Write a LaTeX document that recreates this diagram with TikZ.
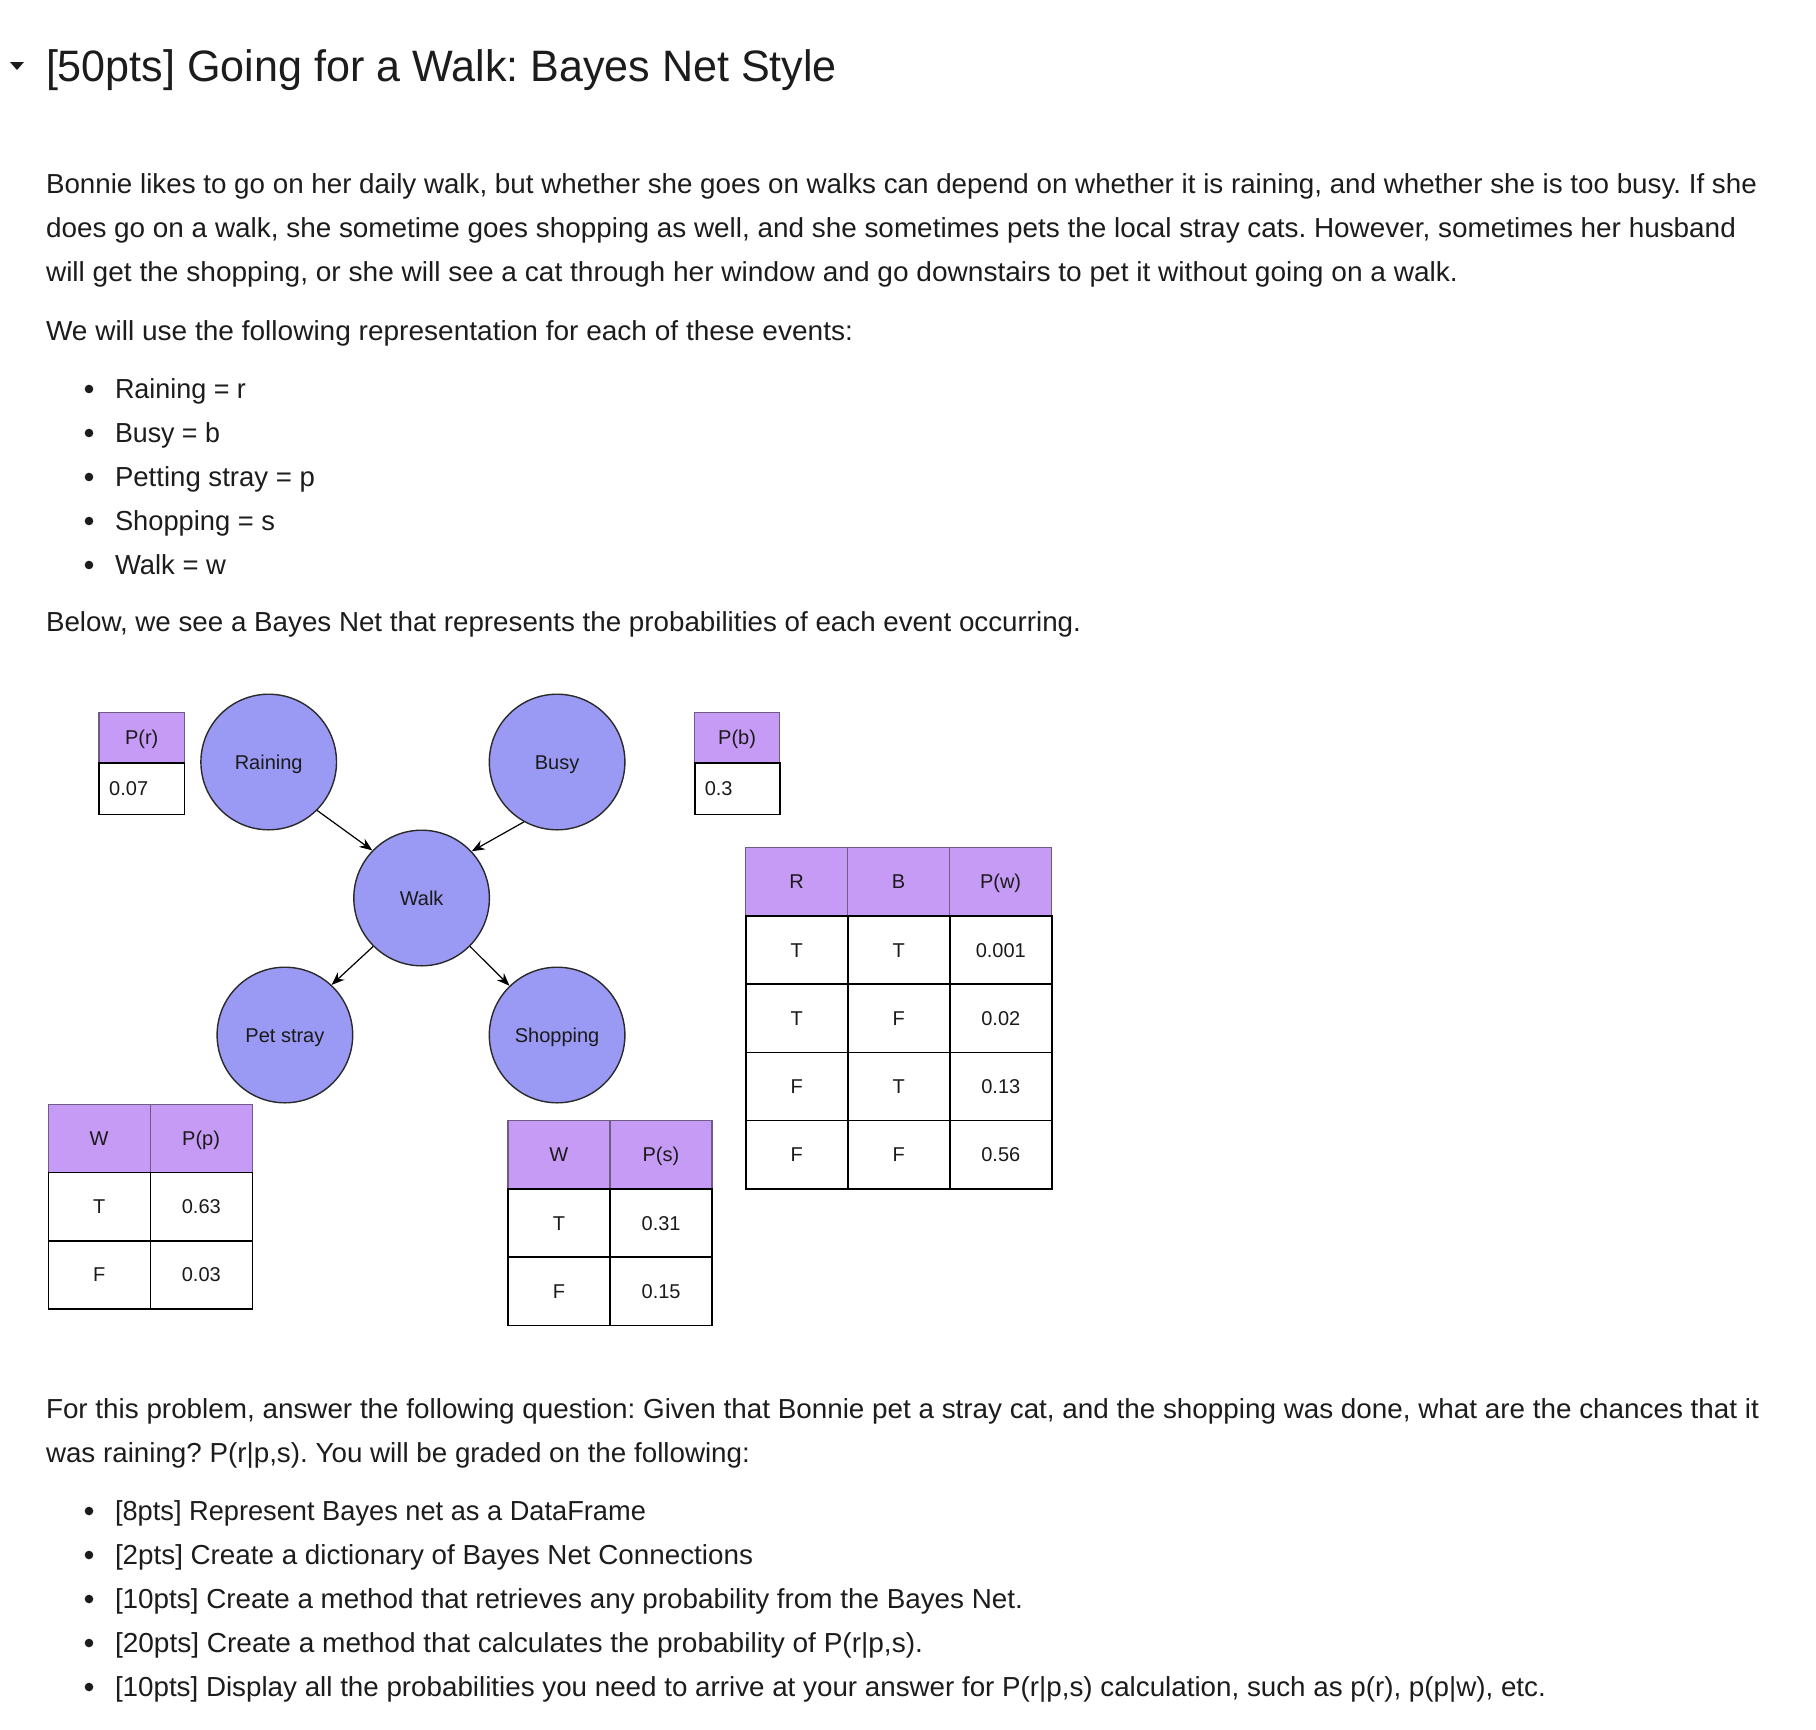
\documentclass[tikz,border=0pt]{standalone}
\usepackage{fontspec}
\usepackage{graphicx}
\setmainfont{Liberation Sans}
\usetikzlibrary{arrows.meta}
\definecolor{textgray}{HTML}{1C1C1C}
\definecolor{nodefill}{HTML}{9A9AF4}
\definecolor{nodeline}{HTML}{2A2A2A}
\definecolor{hdrfill}{HTML}{C69BF5}
\definecolor{hdrline}{HTML}{6F5C85}
\definecolor{ink}{HTML}{1A1A1A}
\newsavebox\fitbox
\newlength\fitlen
\newcommand\fitto[2]{\sbox\fitbox{#2}\setlength\fitlen{\wd\fitbox}\pgfmathsetmacro\fitsx{#1/\fitlen}\scalebox{\fitsx}[1]{\usebox\fitbox}}
\newcommand\bdfont{\fontsize{27.5pt}{33pt}\selectfont}
\newcommand\ttlfont{\fontsize{44pt}{52pt}\selectfont}
\newcommand\dgfont{\fontsize{20pt}{24pt}\selectfont}
\frenchspacing
\tikzset{
  txt/.style={anchor=base west, inner sep=0pt, outer sep=0pt, text=textgray, font=\bdfont},
  bnode/.style={circle, draw=nodeline, line width=1.4pt, fill=nodefill, minimum size=135.6pt, inner sep=0pt, font=\dgfont, text=ink, text height=14.3pt, text depth=0pt},
  hcell/.style={anchor=north west, draw=hdrline, fill=hdrfill, line width=1.2pt, minimum width=102pt, minimum height=68.2pt, inner sep=0pt, font=\dgfont, text=ink, text height=14.3pt, text depth=0pt},
  bcell/.style={anchor=north west, draw=black, fill=white, line width=1.6pt, minimum width=102pt, minimum height=68.2pt, inner sep=0pt, font=\dgfont, text=ink, text height=14.3pt, text depth=0pt},
  arr/.style={draw=black, line width=1.2pt, -{Stealth[length=13pt, width=10pt]}},
  bullet/.style={fill=textgray}
}
\begin{document}
\begin{tikzpicture}[x=1pt, y=-1pt]
\useasboundingbox[fill=white] (0,0) rectangle (1816,1730);

% title
\fill[textgray] (10,62) -- (24,62) -- (17,70) -- cycle;
\node[txt, font=\ttlfont] (title) at (46,81) {\fitto{791}{[50pts] Going for a Walk: Bayes Net Style}};

% intro paragraph
\node[txt] (p1) at (46,193) {\fitto{1711}{Bonnie likes to go on her daily walk, but whether she goes on walks can depend on whether it is raining, and whether she is too busy. If she}};
\node[txt] (p2) at (46,237) {\fitto{1690}{does go on a walk, she sometime goes shopping as well, and she sometimes pets the local stray cats. However, sometimes her husband}};
\node[txt] (p3) at (46,281) {\fitto{1412}{will get the shopping, or she will see a cat through her window and go downstairs to pet it without going on a walk.}};
\node[txt] (p4) at (46,340) {\fitto{807}{We will use the following representation for each of these events:}};

% event bullets
\fill[bullet] (89,389) circle[radius=4.3pt];
\fill[bullet] (89,433) circle[radius=4.3pt];
\fill[bullet] (89,477) circle[radius=4.3pt];
\fill[bullet] (89,521) circle[radius=4.3pt];
\fill[bullet] (89,565) circle[radius=4.3pt];
\node[txt] (e1) at (115,398) {\fitto{131}{Raining = r}};
\node[txt] (e2) at (115,442) {\fitto{105}{Busy = b}};
\node[txt] (e3) at (115,486) {\fitto{200}{Petting stray = p}};
\node[txt] (e4) at (115,530) {\fitto{160}{Shopping = s}};
\node[txt] (e5) at (115,574) {\fitto{111}{Walk = w}};

\node[txt] (p5) at (46,631) {\fitto{1035}{Below, we see a Bayes Net that represents the probabilities of each event occurring.}};

% Bayes net nodes
\node[bnode] (rain) at (268.7,762) {Raining};
\node[bnode] (busy) at (557.1,762) {Busy};
\node[bnode] (walk) at (421.6,898) {Walk};
\node[bnode] (pet)  at (284.9,1035) {Pet stray};
\node[bnode] (shop) at (557.1,1035) {Shopping};

\draw[arr] (rain.315) -- (walk.136);
\draw[arr] (busy.241) -- (walk.43);
\draw[arr] (walk.225) -- (pet.47);
\draw[arr] (walk.315) -- (shop.134);

% P(r)
\node[hcell, minimum width=85.4pt, minimum height=50pt] (prh) at (98.4,712) {P(r)};
\node[bcell, minimum width=85.4pt, minimum height=51.5pt, text width=65.4pt, inner xsep=10pt, align=left] (prv) at (98.4,762) {0.07};
% P(b)
\node[hcell, minimum width=85pt, minimum height=50pt] (pbh) at (694,712) {P(b)};
\node[bcell, minimum width=85pt, minimum height=51.5pt, text width=65pt, inner xsep=10pt, align=left] (pbv) at (694,762) {0.3};

% P(w) table
\node[hcell] (wh1) at (745,847) {R};
\node[hcell] (wh2) at (847,847) {B};
\node[hcell] (wh3) at (949,847) {P(w)};
\node[bcell] (w11) at (745,915.2) {T};
\node[bcell] (w12) at (847,915.2) {T};
\node[bcell] (w13) at (949,915.2) {0.001};
\node[bcell] (w21) at (745,983.4) {T};
\node[bcell] (w22) at (847,983.4) {F};
\node[bcell] (w23) at (949,983.4) {0.02};
\node[bcell] (w31) at (745,1051.6) {F};
\node[bcell] (w32) at (847,1051.6) {T};
\node[bcell] (w33) at (949,1051.6) {0.13};
\node[bcell] (w41) at (745,1119.8) {F};
\node[bcell] (w42) at (847,1119.8) {F};
\node[bcell] (w43) at (949,1119.8) {0.56};

% P(p) table
\node[hcell] (ph1) at (47.5,1103.5) {W};
\node[hcell] (ph2) at (149.5,1103.5) {P(p)};
\node[bcell] (p11) at (47.5,1171.7) {T};
\node[bcell] (p12) at (149.5,1171.7) {0.63};
\node[bcell] (p21) at (47.5,1239.9) {F};
\node[bcell] (p22) at (149.5,1239.9) {0.03};

% P(s) table
\node[hcell] (sh1) at (507.3,1120) {W};
\node[hcell] (sh2) at (609.3,1120) {P(s)};
\node[bcell] (s11) at (507.3,1188.2) {T};
\node[bcell] (s12) at (609.3,1188.2) {0.31};
\node[bcell] (s21) at (507.3,1256.4) {F};
\node[bcell] (s22) at (609.3,1256.4) {0.15};

% question
\node[txt] (q1) at (46,1418) {\fitto{1713}{For this problem, answer the following question: Given that Bonnie pet a stray cat, and the shopping was done, what are the chances that it}};
\node[txt] (q2) at (46,1462) {\fitto{704}{was raining? P(r|p,s). You will be graded on the following:}};

\fill[bullet] (89,1511) circle[radius=4.3pt];
\fill[bullet] (89,1555) circle[radius=4.3pt];
\fill[bullet] (89,1599) circle[radius=4.3pt];
\fill[bullet] (89,1643) circle[radius=4.3pt];
\fill[bullet] (89,1687) circle[radius=4.3pt];
\node[txt] (g1) at (115,1520) {\fitto{531}{[8pts] Represent Bayes net as a DataFrame}};
\node[txt] (g2) at (115,1564) {\fitto{638}{[2pts] Create a dictionary of Bayes Net Connections}};
\node[txt] (g3) at (115,1608) {\fitto{908}{[10pts] Create a method that retrieves any probability from the Bayes Net.}};
\node[txt] (g4) at (115,1652) {\fitto{808}{[20pts] Create a method that calculates the probability of P(r|p,s).}};
\node[txt] (g5) at (115,1696) {\fitto{1431}{[10pts] Display all the probabilities you need to arrive at your answer for P(r|p,s) calculation, such as p(r), p(p|w), etc.}};
\end{tikzpicture}
\end{document}
